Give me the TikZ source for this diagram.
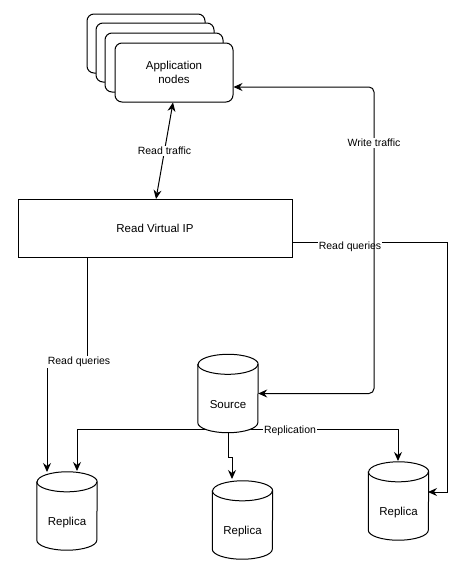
\documentclass[tikz,border=0pt]{standalone}
\usepackage{fontspec}
\setmainfont{Liberation Sans}
\usetikzlibrary{arrows.meta,calc,backgrounds}
\newcommand\dbdraw[1]{%
  \draw[line width=1pt,fill=white] ($(#1.north west)+(0pt,-10pt)$) -- ($(#1.south west)+(0pt,10pt)$)
    arc[start angle=180,end angle=360,x radius=30pt,y radius=10pt]
    -- ($(#1.north east)+(0pt,-10pt)$)
    arc[start angle=0,end angle=180,x radius=30pt,y radius=10pt] -- cycle;
  \draw[line width=1pt] ($(#1.north west)+(0pt,-10pt)$)
    arc[start angle=180,end angle=360,x radius=30pt,y radius=10pt];}
\begin{document}
\begin{tikzpicture}[x=1pt,y=-1pt,
  every node/.style={font=\fontsize{11.5}{13.5}\selectfont},
  appbox/.style={draw,fill=white,rounded corners=7pt,minimum width=118pt,minimum height=59pt,line width=1pt,inner sep=0pt},
  vipbox/.style={draw,fill=white,minimum width=274pt,minimum height=58pt,line width=1pt,inner sep=0pt},
  db/.style={rectangle,minimum width=60pt,minimum height=78pt,inner sep=0pt},
  dbtext/.style={yshift=-11.5pt},
  conn/.style={line width=1pt,-{Stealth[length=9pt,width=8pt,inset=3pt]}},
  conn2/.style={line width=1pt,{Stealth[length=9pt,width=8pt,inset=3pt]}-{Stealth[length=9pt,width=8pt,inset=3pt]}},
  elabel/.style={fill=white,inner sep=1pt,font=\fontsize{10.5}{12}\selectfont}]
\useasboundingbox (0,0) rectangle (474,573);
% application node stack
\node[appbox] (app1) at (146,43.5) {};
\node[appbox] (app2) at (155,52.5) {};
\node[appbox] (app3) at (164,62.5) {};
\node[appbox,align=center] (app) at (174,72.5) {Application\\nodes};
% read virtual IP
\node[vipbox] (vip) at (155,228) {Read Virtual IP};
% databases
\node[db] (src) at (228,393.5) {};
\node[db] (r1) at (67,511) {};
\node[db] (r2) at (242.5,520) {};
\node[db] (r3) at (398.5,501) {};
\dbdraw{src}\dbdraw{r1}\dbdraw{r2}\dbdraw{r3}
\node[dbtext] (srct) at (src) {Source};
\node[dbtext] (r1t) at (r1) {Replica};
\node[dbtext] (r2t) at (r2) {Replica};
\node[dbtext] (r3t) at (r3) {Replica};
% coordinates
\coordinate (rtA) at ($(app.south)+(-1,0)$);
\coordinate (rtB) at (156,199);
\coordinate (wtA) at ($(app.east)+(0,14.5)$);
\coordinate (wtM) at (374,240);
\coordinate (rqR0) at (292,242);
\coordinate (rqR1) at (447,242);
\coordinate (rqR2) at (447,492);
\coordinate (rqR3) at (428,492);
\coordinate (rqL0) at (87,257);
\coordinate (rqL1) at (87,362);
\coordinate (rqL2) at (47,362);
\coordinate (rqL3) at (47,472);
\coordinate (rep0) at (228,429);
\coordinate (repL) at (77,471);
\coordinate (repR) at (398,461);
\coordinate (repM1) at (228,457);
\coordinate (repM2) at (232,457);
\coordinate (repM3) at (232,479);
\begin{scope}[on background layer]
  \draw[conn2] (rtA) -- node[elabel,pos=0.5] {Read traffic} (rtB);
  \draw[conn] (rqR0) -- (rqR1) -- (rqR2) -- (rqR3);
  \node[elabel] (lblrq) at (350,247) {Read queries};
  \draw[conn2,rounded corners=5pt] (wtA) -| (wtM) |- (src.east);
  \node[elabel] (lblwt) at (374,143) {Write traffic};
  \draw[conn] (rqL0) -- (rqL1) -- (rqL2) -- (rqL3);
  \node[elabel] (lblrq2) at (79,362) {Read queries};
  \draw[conn] (rep0) -| (repL);
  \draw[conn] (rep0) -| (repR);
  \draw[conn] (src.south) -- (repM1) -- (repM2) -- (repM3);
  \node[elabel] (lblrep) at (290,431) {Replication};
\end{scope}
\end{tikzpicture}
\end{document}
